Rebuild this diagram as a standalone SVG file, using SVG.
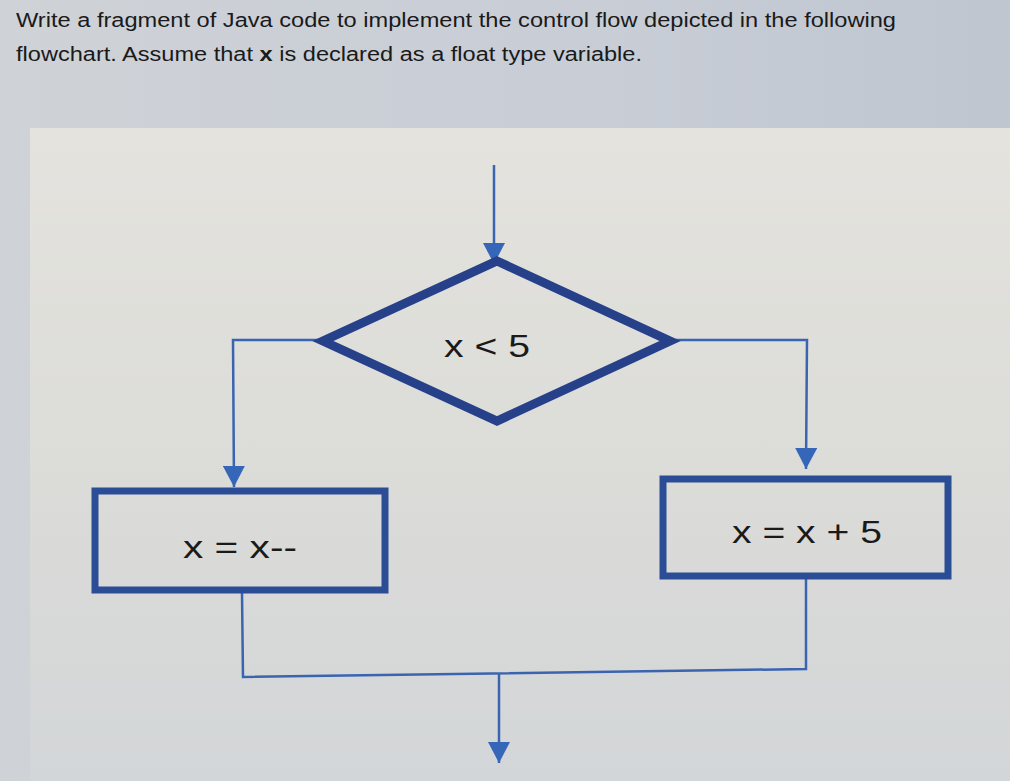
<svg xmlns="http://www.w3.org/2000/svg" width="1010" height="781" viewBox="0 0 1010 781">
<defs>
<linearGradient id="bgTop" x1="0" y1="0" x2="1" y2="0">
<stop offset="0" stop-color="#cfd2d6"/>
<stop offset="0.6" stop-color="#c8cdd6"/>
<stop offset="1" stop-color="#bfc6cf"/>
</linearGradient>
<linearGradient id="panel" x1="0" y1="0" x2="0" y2="1">
<stop offset="0" stop-color="#e4e3de"/>
<stop offset="0.5" stop-color="#dcdcd8"/>
<stop offset="1" stop-color="#d3d6d8"/>
</linearGradient>
<marker id="arr" markerWidth="21" markerHeight="22" refX="21" refY="11" orient="auto" markerUnits="userSpaceOnUse" viewBox="0 0 21 22">
<path d="M0,0 L21,11 L0,22 Z" fill="#3566b8"/>
</marker>
<style>
.hdr{font-family:"Liberation Sans",Arial,sans-serif;font-size:20px;fill:#1a1a1a;}
.lbl{font-family:"Liberation Sans",Arial,sans-serif;font-size:32px;fill:#1a1a1a;text-anchor:middle;}
.conn{fill:none;stroke:#3a64b0;stroke-width:2.5;}
.box{fill:none;stroke:#2b4d96;stroke-width:7;}
.dia{fill:none;stroke:#26418a;stroke-width:9;stroke-linejoin:miter;}
</style>
</defs>
<rect x="0" y="0" width="1010" height="781" fill="url(#bgTop)"/>
<rect x="30" y="128" width="980" height="653" fill="url(#panel)"/>
<text class="hdr" x="16" y="27" textLength="880" lengthAdjust="spacingAndGlyphs">Write a fragment of Java code to implement the control flow depicted in the following</text>
<text class="hdr" x="16" y="61" textLength="626" lengthAdjust="spacingAndGlyphs">flowchart. Assume that <tspan font-weight="bold">x</tspan> is declared as a float type variable.</text>
<g id="connectors">
<path class="conn" d="M494,165 L494,264" marker-end="url(#arr)"/>
<path class="conn" d="M321,340 L233,340 L234,487" marker-end="url(#arr)"/>
<path class="conn" d="M672,340 L807,340 L806,469" marker-end="url(#arr)"/>
<path class="conn" d="M242,593 L243,677 L806,669 L806,579"/>
<path class="conn" d="M499,674 L499,763" marker-end="url(#arr)"/>
</g>
<g id="decision">
<polygon class="dia" points="497,261 670,341 497,421 323,341"/>
<text class="lbl" x="487" y="357" textLength="86" lengthAdjust="spacingAndGlyphs">x &lt; 5</text>
</g>
<g id="decrement">
<rect class="box" x="95" y="491" width="290" height="99"/>
<text class="lbl" x="240" y="558" textLength="114" lengthAdjust="spacingAndGlyphs">x = x--</text>
</g>
<g id="increment">
<rect class="box" x="663" y="479" width="285" height="97"/>
<text class="lbl" x="807" y="543" textLength="150" lengthAdjust="spacingAndGlyphs">x = x + 5</text>
</g>
</svg>
